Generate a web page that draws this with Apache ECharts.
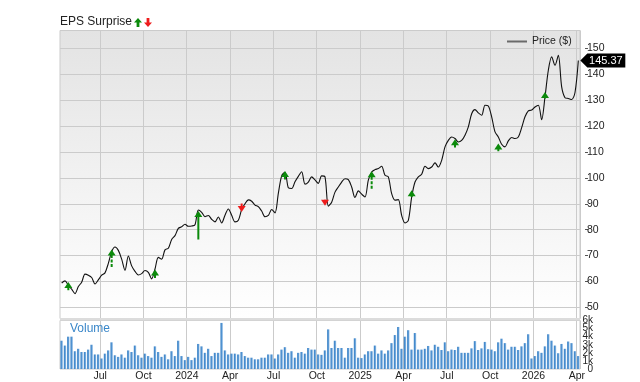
<!DOCTYPE html>
<html><head><meta charset="utf-8">
<script src="https://cdn.jsdelivr.net/npm/echarts@6/dist/echarts.min.js"></script>
<style>html,body{margin:0;padding:0;background:#fff}#c{width:640px;height:382px}</style>
</head><body><div id="c"></div>
<script>
// ---- data ----
const startDate = '2023-04-07'; // first weekly bar
const price = [
  59.4, 60.2, 58.5, 57.0, 55.3, 58.0, 59.7, 62.8, 62.4, 61.5,
  59.0, 60.6, 62.4, 63.3, 67.0, 71.5, 73.3, 72.0, 68.6, 64.3,
  69.8, 66.0, 63.9, 62.5, 63.0, 64.2, 63.5, 61.0, 64.8, 69.3,
  68.6, 72.2, 72.8, 76.2, 77.7, 80.5, 81.1, 82.1, 81.3, 81.4,
  81.9, 87.6, 86.7, 85.0, 85.5, 84.0, 83.0, 84.9, 82.6, 85.6,
  88.0, 85.6, 83.0, 83.6, 87.8, 90.0, 91.5, 91.0, 89.5, 88.9,
  87.2, 85.0, 85.5, 87.8, 86.5, 94.0, 100.8, 102.2, 96.2, 95.9,
  98.5, 100.6, 102.4, 97.6, 98.4, 100.4, 99.2, 97.9, 100.8, 100.4,
  89.1, 90.6, 94.5, 96.5, 98.4, 99.7, 99.3, 96.5, 92.4, 95.0,
  93.7, 92.6, 99.1, 102.3, 103.2, 103.6, 104.5, 101.0, 100.4, 93.9,
  91.4, 91.6, 85.5, 82.6, 83.6, 92.6, 98.4, 100.4, 101.4, 104.5,
  103.6, 104.2, 105.8, 104.2, 106.8, 112.0, 114.5, 115.8, 115.2, 113.9,
  114.5, 116.5, 119.7, 124.8, 126.4, 125.1, 124.2, 128.1, 127.8, 123.6,
  117.8, 115.8, 113.0, 112.0, 114.3, 115.6, 115.2, 115.8, 119.4, 123.6,
  125.9, 126.2, 127.4, 128.1, 122.5, 131.3, 141.6, 146.8, 143.5, 147.4,
  135.2, 131.0, 130.7, 130.3, 133.0, 145.37
];
const volumeK = [
  3.5, 2.9, 4.0, 4.0, 2.2, 2.5, 2.1, 2.1, 2.4, 3.0,
  1.8, 1.8, 1.3, 1.9, 2.3, 3.3, 1.7, 1.5, 1.8, 1.4,
  2.3, 2.1, 2.9, 1.7, 1.4, 1.9, 1.6, 1.4, 2.8, 2.1,
  1.5, 1.8, 1.2, 2.2, 1.6, 3.5, 1.6, 1.1, 1.5, 1.1,
  1.4, 3.1, 2.8, 2.0, 2.5, 1.6, 2.0, 2.0, 5.7, 2.3,
  1.8, 1.9, 1.9, 1.8, 2.1, 1.6, 1.4, 1.4, 1.2, 1.2,
  1.4, 1.4, 1.8, 1.8, 1.3, 1.8, 2.4, 2.7, 2.0, 2.2,
  1.4, 2.0, 2.1, 1.9, 2.6, 2.4, 2.4, 1.8,
  1.75, 2.3, 4.9, 2.6, 3.5, 2.6, 2.6, 1.4, 2.6, 2.6,
  3.8, 1.4, 1.35, 1.8, 2.2, 2.2, 2.9, 1.9, 2.3, 1.9,
  2.3, 3.2, 4.2, 5.2, 2.5, 4.0, 4.8, 2.4, 4.45, 2.4,
  2.4, 2.5, 2.85, 2.3, 3.0, 2.75, 2.35, 3.3, 2.2, 2.4,
  2.35, 2.75, 2.0, 2.0, 2.0, 2.55, 3.45, 2.35, 2.55, 3.35,
  2.45, 2.4, 2.2, 3.3, 3.75, 3.2, 2.4, 2.75, 2.75, 2.35,
  2.8, 3.2, 4.3, 1.3, 1.6, 2.2, 2.0, 2.8, 4.3, 3.5,
  2.9, 1.95, 3.1, 2.5, 3.4, 3.2, 2.2, 1.6
];
const tickWeeks  = [12, 25, 38, 51, 64, 77, 90, 103, 116, 129, 142, 155];
const tickLabels = ['Jul', 'Oct', '2024', 'Apr', 'Jul', 'Oct', '2025', 'Apr', 'Jul', 'Oct', '2026', 'Apr'];
const priceTicks = [50, 150, 10];
const volumeTicksK = [0, 6, 1];
// EPS surprise markers
const epsWeek    = [2, 15, 28, 41, 54, 67, 79, 93, 105, 118, 131, 145];
const epsTip     = [59.8, 72.3, 64.6, 87.2, 86.8, 102.7, 89.2, 102.6, 95.2, 114.9, 113.3, 133.2];
const epsStemEnd = [56.6, 65.0, 61.1, 76.2, 90.1, 99.1, 91.6, 95.2, 92.6, 111.7, 110.3, 130.7];
const epsBeat    = [1, 1, 1, 1, 0, 1, 0, 1, 1, 1, 1, 1];
const epsSolid   = [0, 0, 0, 1, 1, 0, 1, 0, 0, 0, 0, 0];
const lastPrice = 145.37;

// ---- build ----
const cats = [];
const d0 = new Date(startDate + 'T00:00:00Z');
for (let i = 0; i < price.length; i++) {
  const d = new Date(d0.getTime() + i * 7 * 86400000);
  cats.push(d.toISOString().slice(0, 10));
}
const tickSet = new Set(tickWeeks);
const isTick = (i) => tickSet.has(i);
const FONT = '"Liberation Sans", Arial, Helvetica, sans-serif';
const GRID_LINE = '#cbcbcb';

const epsData = epsWeek.map((w, i) => [w, epsTip[i], epsStemEnd[i], epsBeat[i], epsSolid[i]]);

const volLabel = (v) => v === 0 ? '0' : v + 'k';
const volAxisBase = {
  type: 'value', gridIndex: 2, position: 'right', min: volumeTicksK[0], max: volumeTicksK[1],
  axisLine: {show: false}, axisTick: {show: false}, splitLine: {show: false}
};
const volLabelStyle = {align: 'right', margin: 13, fontSize: 10, color: '#222', fontFamily: FONT,
  showMinLabel: true, showMaxLabel: true, hideOverlap: false};

const chart = echarts.init(document.getElementById('c'), null, {renderer: 'canvas'});
chart.setOption({
  animation: false,
  textStyle: {fontFamily: FONT},
  title: {
    text: 'EPS Surprise', left: 60, top: 16, padding: 0,
    textStyle: {fontSize: 12, fontWeight: 'normal', color: '#222', fontFamily: FONT}
  },
  legend: {
    data: [{name: 'Price ($)', icon: 'rect'}],
    left: 507, top: 36, padding: 0,
    itemWidth: 20, itemHeight: 2, itemGap: 5,
    itemStyle: {color: '#6a6a6a'},
    textStyle: {fontSize: 10.5, color: '#222', fontFamily: FONT}
  },
  grid: [
    {left: 60, right: 60, top: 30.5, height: 288, show: true, borderColor: GRID_LINE, borderWidth: 1,
     backgroundColor: {type: 'linear', x: 0, y: 0, x2: 0, y2: 1,
       colorStops: [{offset: 0, color: '#e3e3e3'}, {offset: 1, color: '#ffffff'}]}},
    {left: 60, right: 60, top: 48.5, height: 258.8, show: false},
    {left: 60, right: 60, top: 320.5, height: 49.5, show: true, borderColor: GRID_LINE, borderWidth: 1, backgroundColor: '#fff'}
  ],
  xAxis: [
    {type: 'category', gridIndex: 0, data: cats, boundaryGap: true,
     axisLine: {show: false}, axisTick: {show: false}, axisLabel: {show: false},
     splitLine: {show: true, interval: (i) => isTick(i), lineStyle: {color: GRID_LINE}}},
    {type: 'category', gridIndex: 1, data: cats, boundaryGap: true, show: false},
    {type: 'category', gridIndex: 2, data: cats, boundaryGap: true,
     axisLine: {show: false}, axisTick: {show: false},
     axisLabel: {interval: (i) => isTick(i), formatter: (v, i) => tickLabels[tickWeeks.indexOf(i)] || '',
       fontSize: 10.5, color: '#222', margin: 2, padding: [0, 3, 0, 0], fontFamily: FONT},
     splitLine: {show: true, interval: (i) => isTick(i), lineStyle: {color: GRID_LINE}}}
  ],
  yAxis: [
    {type: 'value', gridIndex: 0, min: 0, max: 1, show: false},
    {type: 'value', gridIndex: 1, position: 'right', min: priceTicks[0], max: priceTicks[1], interval: priceTicks[2],
     offset: 5,
     axisLine: {show: false}, axisTick: {show: true, length: 3, lineStyle: {color: '#555'}},
     axisLabel: {margin: 2, fontSize: 10.5, color: '#222', fontFamily: FONT, showMinLabel: true, showMaxLabel: true},
     splitLine: {show: true, lineStyle: {color: GRID_LINE}}},
    Object.assign({}, volAxisBase, {interval: volumeTicksK[2] * 2,
      axisLabel: Object.assign({}, volLabelStyle, {formatter: volLabel})}),
    Object.assign({}, volAxisBase, {interval: volumeTicksK[2],
      axisLabel: Object.assign({}, volLabelStyle, {formatter: (v) => (v % 2 === 1 ? volLabel(v) : '')})})
  ],
  graphic: [
    {type: 'polygon', shape: {points: [[138, 18], [134, 22.5], [136.6, 22.5], [136.6, 27], [139.4, 27], [139.4, 22.5], [142, 22.5]]},
     style: {fill: '#0b8a0b'}},
    {type: 'polygon', shape: {points: [[148, 27], [144, 22.5], [146.6, 22.5], [146.6, 18], [149.4, 18], [149.4, 22.5], [152, 22.5]]},
     style: {fill: '#ee1c1c'}},
    {type: 'rect', shape: {x: 60, y: 318, width: 520, height: 2.5}, style: {fill: '#dcdcdc'}, z: 5},
    {type: 'text', left: 70, top: 323, style: {text: 'Volume', fill: '#3a87c9', font: '12px ' + FONT}, z: 10}
  ],
  series: [
    {name: 'Price ($)', type: 'line', xAxisIndex: 1, yAxisIndex: 1, data: price,
     symbol: 'none', smooth: 0.3, lineStyle: {color: '#111', width: 1.1}, itemStyle: {color: '#111'}, z: 3,
     markPoint: {
       symbol: 'path://M0,7 L7,0 L45,0 L45,14 L7,14 Z', symbolSize: [45, 14], symbolOffset: [24.5, 0],
       itemStyle: {color: '#000'},
       label: {show: true, color: '#fff', fontSize: 11, fontFamily: FONT, offset: [3, 0], formatter: (p) => p.value.toFixed(2)},
       data: [{coord: [price.length - 1, lastPrice], value: lastPrice}]
     }},
    {name: 'eps', type: 'custom', xAxisIndex: 1, yAxisIndex: 1, data: epsData, z: 4,
     encode: {x: 0, y: 1},
     renderItem: function (params, api) {
       const t = api.coord([api.value(0), api.value(1)]);
       const e = api.coord([api.value(0), api.value(2)]);
       const up = api.value(3) === 1;
       const solid = api.value(4) === 1;
       const color = up ? '#0b8a0b' : '#ee1c1c';
       const s = up ? 1 : -1;
       const px = t[0], ty = t[1], ey = e[1];
       const headH = 6, hw = 4;
       return {type: 'group', children: [
         {type: 'line', shape: {x1: px, y1: ty + s * (headH - 0.5), x2: px, y2: ey},
          style: {stroke: color, lineWidth: 2, lineDash: solid ? null : [3, 1.5]}},
         {type: 'polygon', shape: {points: [[px, ty], [px - hw, ty + s * headH], [px + hw, ty + s * headH]]},
          style: {fill: color}}
       ]};
     }},
    {name: 'Volume', type: 'bar', xAxisIndex: 2, yAxisIndex: 2, data: volumeK, barWidth: 2.4,
     itemStyle: {color: {type: 'linear', x: 0, y: 0, x2: 1, y2: 0,
       colorStops: [{offset: 0, color: '#327cc2'}, {offset: 0.55, color: '#5697d4'}, {offset: 1, color: '#aacbec'}]}}}
  ]
});
</script>
</body></html>
